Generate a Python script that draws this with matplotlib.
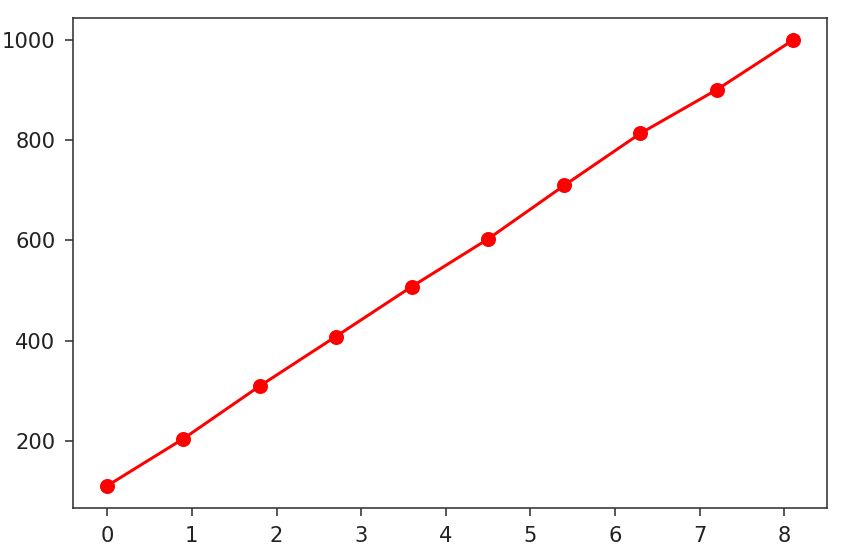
import numpy as np
import matplotlib
matplotlib.use('Agg')
import matplotlib.pyplot as plt

# values
x_vals = [0, 0.9, 1.8, 2.7, 3.6, 4.5, 5.4, 6.3, 7.2, 8.1]
y_vals = [110, 204, 309, 408, 508, 603, 710, 814, 901, 1000]

dpi = 144
plt.rcParams['font.size'] = 10.5
fig = plt.figure(figsize=(844/dpi, 558/dpi), dpi=dpi)
ax = fig.add_axes([73/844, 1 - 508/558, (827 - 73)/844, (508 - 18)/558])

ax.plot(x_vals, y_vals, 'ro-', ms=6.5)

ax.set_yticks([200, 400, 600, 800, 1000])
ax.set_xticks(range(0, 9))
ax.tick_params(length=3.8, pad=5, labelcolor='#222222', color='#333333')
for s in ax.spines.values():
    s.set_color('#333333')

fig.savefig('out.png', dpi=dpi)
